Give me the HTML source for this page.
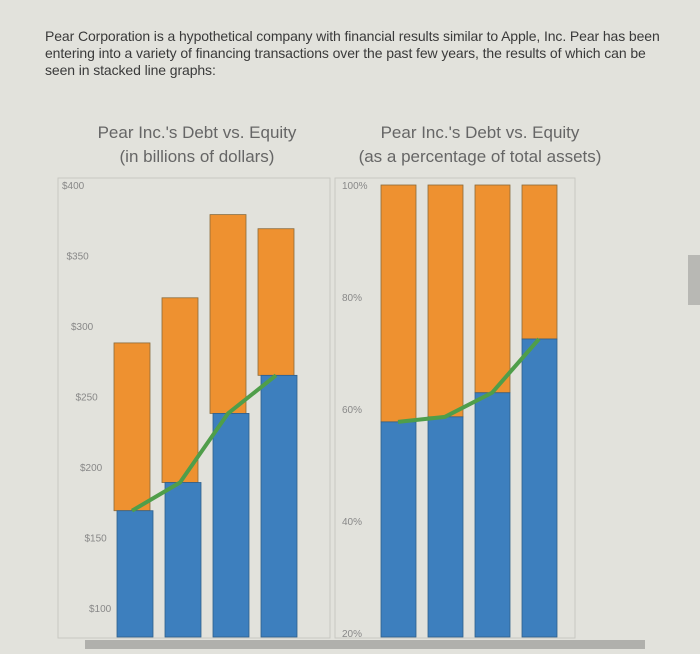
<!DOCTYPE html>
<html><head><meta charset="utf-8">
<style>
html,body{margin:0;padding:0;width:700px;height:654px;overflow:hidden;background:#e2e2dc;font-family:"Liberation Sans",sans-serif;}
#intro{position:absolute;left:45px;top:28px;font-size:14px;line-height:17px;color:#3a3a3a;letter-spacing:-0.1px;white-space:nowrap;}
svg{position:absolute;left:0;top:0;}
</style></head><body>
<div id="intro">Pear Corporation is a hypothetical company with financial results similar to Apple, Inc. Pear has been<br>entering into a variety of financing transactions over the past few years, the results of which can be<br>seen in stacked line graphs:</div>
<svg id="chart" width="700" height="654"></svg>
<script>
const leftTicks = [400, 350, 300, 250, 200, 150, 100];
const leftDebt = [169, 189, 238, 265];
const leftTotal = [288, 320, 379, 369];
const rightTicks = [100, 80, 60, 40, 20];
const rightDebtPct = [57.7, 58.6, 62.9, 72.5];
const years = ["Y1", "Y2", "Y3", "Y4"];

const NS = "http://www.w3.org/2000/svg";
const svg = document.getElementById("chart");
function mk(tag, attrs, parent) {
  const e = document.createElementNS(NS, tag);
  for (const k in attrs) e.setAttribute(k, attrs[k]);
  (parent || svg).appendChild(e);
  return e;
}
const BOTTOM = 637;
function yL(v) { return 185 + (400 - v) * 1.41; }
function yR(v) { return 185 + (100 - v) * 5.6; }
const xL = i => 114 + i * 48;
const xR = i => 381 + i * 47;
const BW = 36;

function title(x, y, t, n) {
  const e = mk("text", {x: x, y: y, "text-anchor": "middle", "font-size": "17", fill: "#666"});
  e.textContent = t;
  
  
}
title(197, 138, "Pear Inc.'s Debt vs. Equity", "left-title");
title(197, 162, "(in billions of dollars)", "left-subtitle");
title(480, 138, "Pear Inc.'s Debt vs. Equity", "right-title");
title(480, 162, "(as a percentage of total assets)", "right-subtitle");

const f1 = mk("rect", {x: 58, y: 178, width: 272, height: 460, fill: "none", stroke: "#c8c8c2"});


const f2 = mk("rect", {x: 335, y: 178, width: 240, height: 460, fill: "none", stroke: "#c8c8c2"});



leftTicks.forEach(v => {
  const t = mk("text", {x: 62 + (400 - v) * 0.09, y: yL(v) + 4, "font-size": "10", fill: "#888"});
  t.textContent = "$" + v;
  
  
});
rightTicks.forEach(v => {
  const t = mk("text", {x: 342, y: yR(v) + 4, "font-size": "10", fill: "#888"});
  t.textContent = v + "%";
  
  
});

years.forEach((yr, i) => {
  const o = mk("rect", {x: xL(i), y: yL(leftTotal[i]), width: BW, height: yL(leftDebt[i]) - yL(leftTotal[i]), fill: "#ee9130", stroke: "#8a6a3a", "stroke-width": 0.8});
  
  
  const b = mk("rect", {x: xL(i) + 3, y: yL(leftDebt[i]), width: BW, height: BOTTOM - yL(leftDebt[i]), fill: "#3d7fbe", stroke: "#2f5f8a", "stroke-width": 0.8});
  
  
});
const lp = mk("polyline", {points: leftDebt.map((v, i) => (xL(i) + 18) + "," + yL(v)).join(" "), fill: "none", stroke: "#4f9e4a", "stroke-width": 4, "stroke-linejoin": "round"});



years.forEach((yr, i) => {
  const o = mk("rect", {x: xR(i), y: yR(100), width: BW - 1, height: yR(rightDebtPct[i]) - yR(100), fill: "#ee9130", stroke: "#8a6a3a", "stroke-width": 0.8});
  
  
  const b = mk("rect", {x: xR(i), y: yR(rightDebtPct[i]), width: BW - 1, height: BOTTOM - yR(rightDebtPct[i]), fill: "#3d7fbe", stroke: "#2f5f8a", "stroke-width": 0.8});
  
  
});
const rp = mk("polyline", {points: rightDebtPct.map((v, i) => (xR(i) + 17) + "," + yR(v)).join(" "), fill: "none", stroke: "#4f9e4a", "stroke-width": 4, "stroke-linejoin": "round"});



const hs = mk("rect", {x: 85, y: 640, width: 560, height: 9, fill: "#b0b0ac"});


const vs = mk("rect", {x: 688, y: 255, width: 12, height: 50, fill: "#b8b8b4"});


</script>
</body></html>
